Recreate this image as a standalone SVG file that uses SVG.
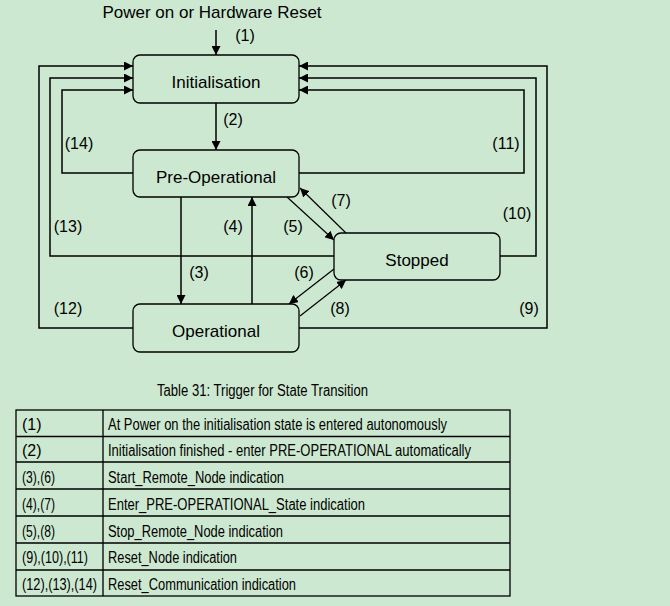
<svg xmlns="http://www.w3.org/2000/svg" width="670" height="606" viewBox="0 0 670 606">
<defs>
<marker id="a" viewBox="0 0 10 10" refX="10" refY="5" markerWidth="9" markerHeight="9" markerUnits="userSpaceOnUse" orient="auto"><path d="M0,0 L10,5 L0,10 z" fill="#000"/></marker>
<style>
.n{fill:#cde8d0;stroke:#000;stroke-width:1.3}
.c{fill:none;stroke:#000;stroke-width:1.5}
.d{fill:none;stroke:#000;stroke-width:1.2}
text{font-family:"Liberation Sans",Arial,sans-serif;font-size:16px;fill:#000}
.nt{font-size:17px}
.tb{font-size:16px}
.g{stroke:#000;stroke-width:1.3}
</style>
</defs>
<rect width="670" height="606" fill="#cde8d0"/>
<g id="connectors">
<path class="c" d="M216,30 V55" marker-end="url(#a)"/>
<path class="c" d="M216,103 V150" marker-end="url(#a)"/>
<path class="c" d="M181,197 V304" marker-end="url(#a)"/>
<path class="c" d="M252,304 V197" marker-end="url(#a)"/>
<path class="d" d="M287,197 L334,240" marker-end="url(#a)"/>
<path class="d" d="M346,233 L300,188" marker-end="url(#a)"/>
<path class="d" d="M334,269 L289,304" marker-end="url(#a)"/>
<path class="d" d="M300,316 L346,280" marker-end="url(#a)"/>
<path class="c" d="M133,328 H39 V66 H133" marker-end="url(#a)"/>
<path class="c" d="M334,256 H50 V78 H133" marker-end="url(#a)"/>
<path class="c" d="M133,173 H62 V90 H133" marker-end="url(#a)"/>
<path class="c" d="M299,328 H547 V66 H299" marker-end="url(#a)"/>
<path class="c" d="M500,256 H536 V78 H299" marker-end="url(#a)"/>
<path class="c" d="M299,173 H524 V90 H299" marker-end="url(#a)"/>
</g>
<g id="initialisation"><rect class="n" x="133" y="55" width="166" height="48" rx="7"/><text class="nt" x="216" y="88" text-anchor="middle">Initialisation</text></g>
<g id="preoperational"><rect class="n" x="133" y="150" width="166" height="47" rx="7"/><text class="nt" x="216" y="183" text-anchor="middle">Pre-Operational</text></g>
<g id="stopped"><rect class="n" x="334" y="233" width="166" height="47" rx="7"/><text class="nt" x="417" y="266" text-anchor="middle">Stopped</text></g>
<g id="operational"><rect class="n" x="133" y="304" width="166" height="48" rx="7"/><text class="nt" x="216" y="337" text-anchor="middle">Operational</text></g>
<g id="labels">
<text class="nt" x="212" y="18" text-anchor="middle">Power on or Hardware Reset</text>
<text x="245" y="41" text-anchor="middle">(1)</text>
<text x="233" y="125" text-anchor="middle">(2)</text>
<text x="79" y="149" text-anchor="middle">(14)</text>
<text x="506" y="149" text-anchor="middle">(11)</text>
<text x="68" y="232" text-anchor="middle">(13)</text>
<text x="233" y="232" text-anchor="middle">(4)</text>
<text x="293" y="232" text-anchor="middle">(5)</text>
<text x="341" y="206" text-anchor="middle">(7)</text>
<text x="517" y="219" text-anchor="middle">(10)</text>
<text x="199" y="278" text-anchor="middle">(3)</text>
<text x="304" y="278" text-anchor="middle">(6)</text>
<text x="68" y="314" text-anchor="middle">(12)</text>
<text x="340" y="314" text-anchor="middle">(8)</text>
<text x="529" y="314" text-anchor="middle">(9)</text>
</g>
<g id="table">
<text x="157" y="396" textLength="211" lengthAdjust="spacingAndGlyphs">Table 31: Trigger for State Transition</text>
<rect x="16" y="410" width="494" height="186" fill="none" class="g"/>
<path class="g" d="M103,410 V596 M16,436.5 H510 M16,462 H510 M16,489 H510 M16,516 H510 M16,543 H510 M16,570 H510"/>
<text x="22" y="430">(1)</text><text x="108" y="430" textLength="339" lengthAdjust="spacingAndGlyphs">At Power on the initialisation state is entered autonomously</text>
<text x="22" y="456">(2)</text><text x="108" y="456" textLength="363" lengthAdjust="spacingAndGlyphs">Initialisation finished - enter PRE-OPERATIONAL automatically</text>
<text x="22" y="483" textLength="33" lengthAdjust="spacingAndGlyphs">(3),(6)</text><text x="108" y="483" textLength="176" lengthAdjust="spacingAndGlyphs">Start_Remote_Node indication</text>
<text x="22" y="510" textLength="33" lengthAdjust="spacingAndGlyphs">(4),(7)</text><text x="108" y="510" textLength="257" lengthAdjust="spacingAndGlyphs">Enter_PRE-OPERATIONAL_State indication</text>
<text x="22" y="537" textLength="33" lengthAdjust="spacingAndGlyphs">(5),(8)</text><text x="108" y="537" textLength="175" lengthAdjust="spacingAndGlyphs">Stop_Remote_Node indication</text>
<text x="22" y="563" textLength="66" lengthAdjust="spacingAndGlyphs">(9),(10),(11)</text><text x="108" y="563" textLength="129" lengthAdjust="spacingAndGlyphs">Reset_Node indication</text>
<text x="22" y="590" textLength="75" lengthAdjust="spacingAndGlyphs">(12),(13),(14)</text><text x="108" y="590" textLength="188" lengthAdjust="spacingAndGlyphs">Reset_Communication indication</text>
</g>
</svg>
